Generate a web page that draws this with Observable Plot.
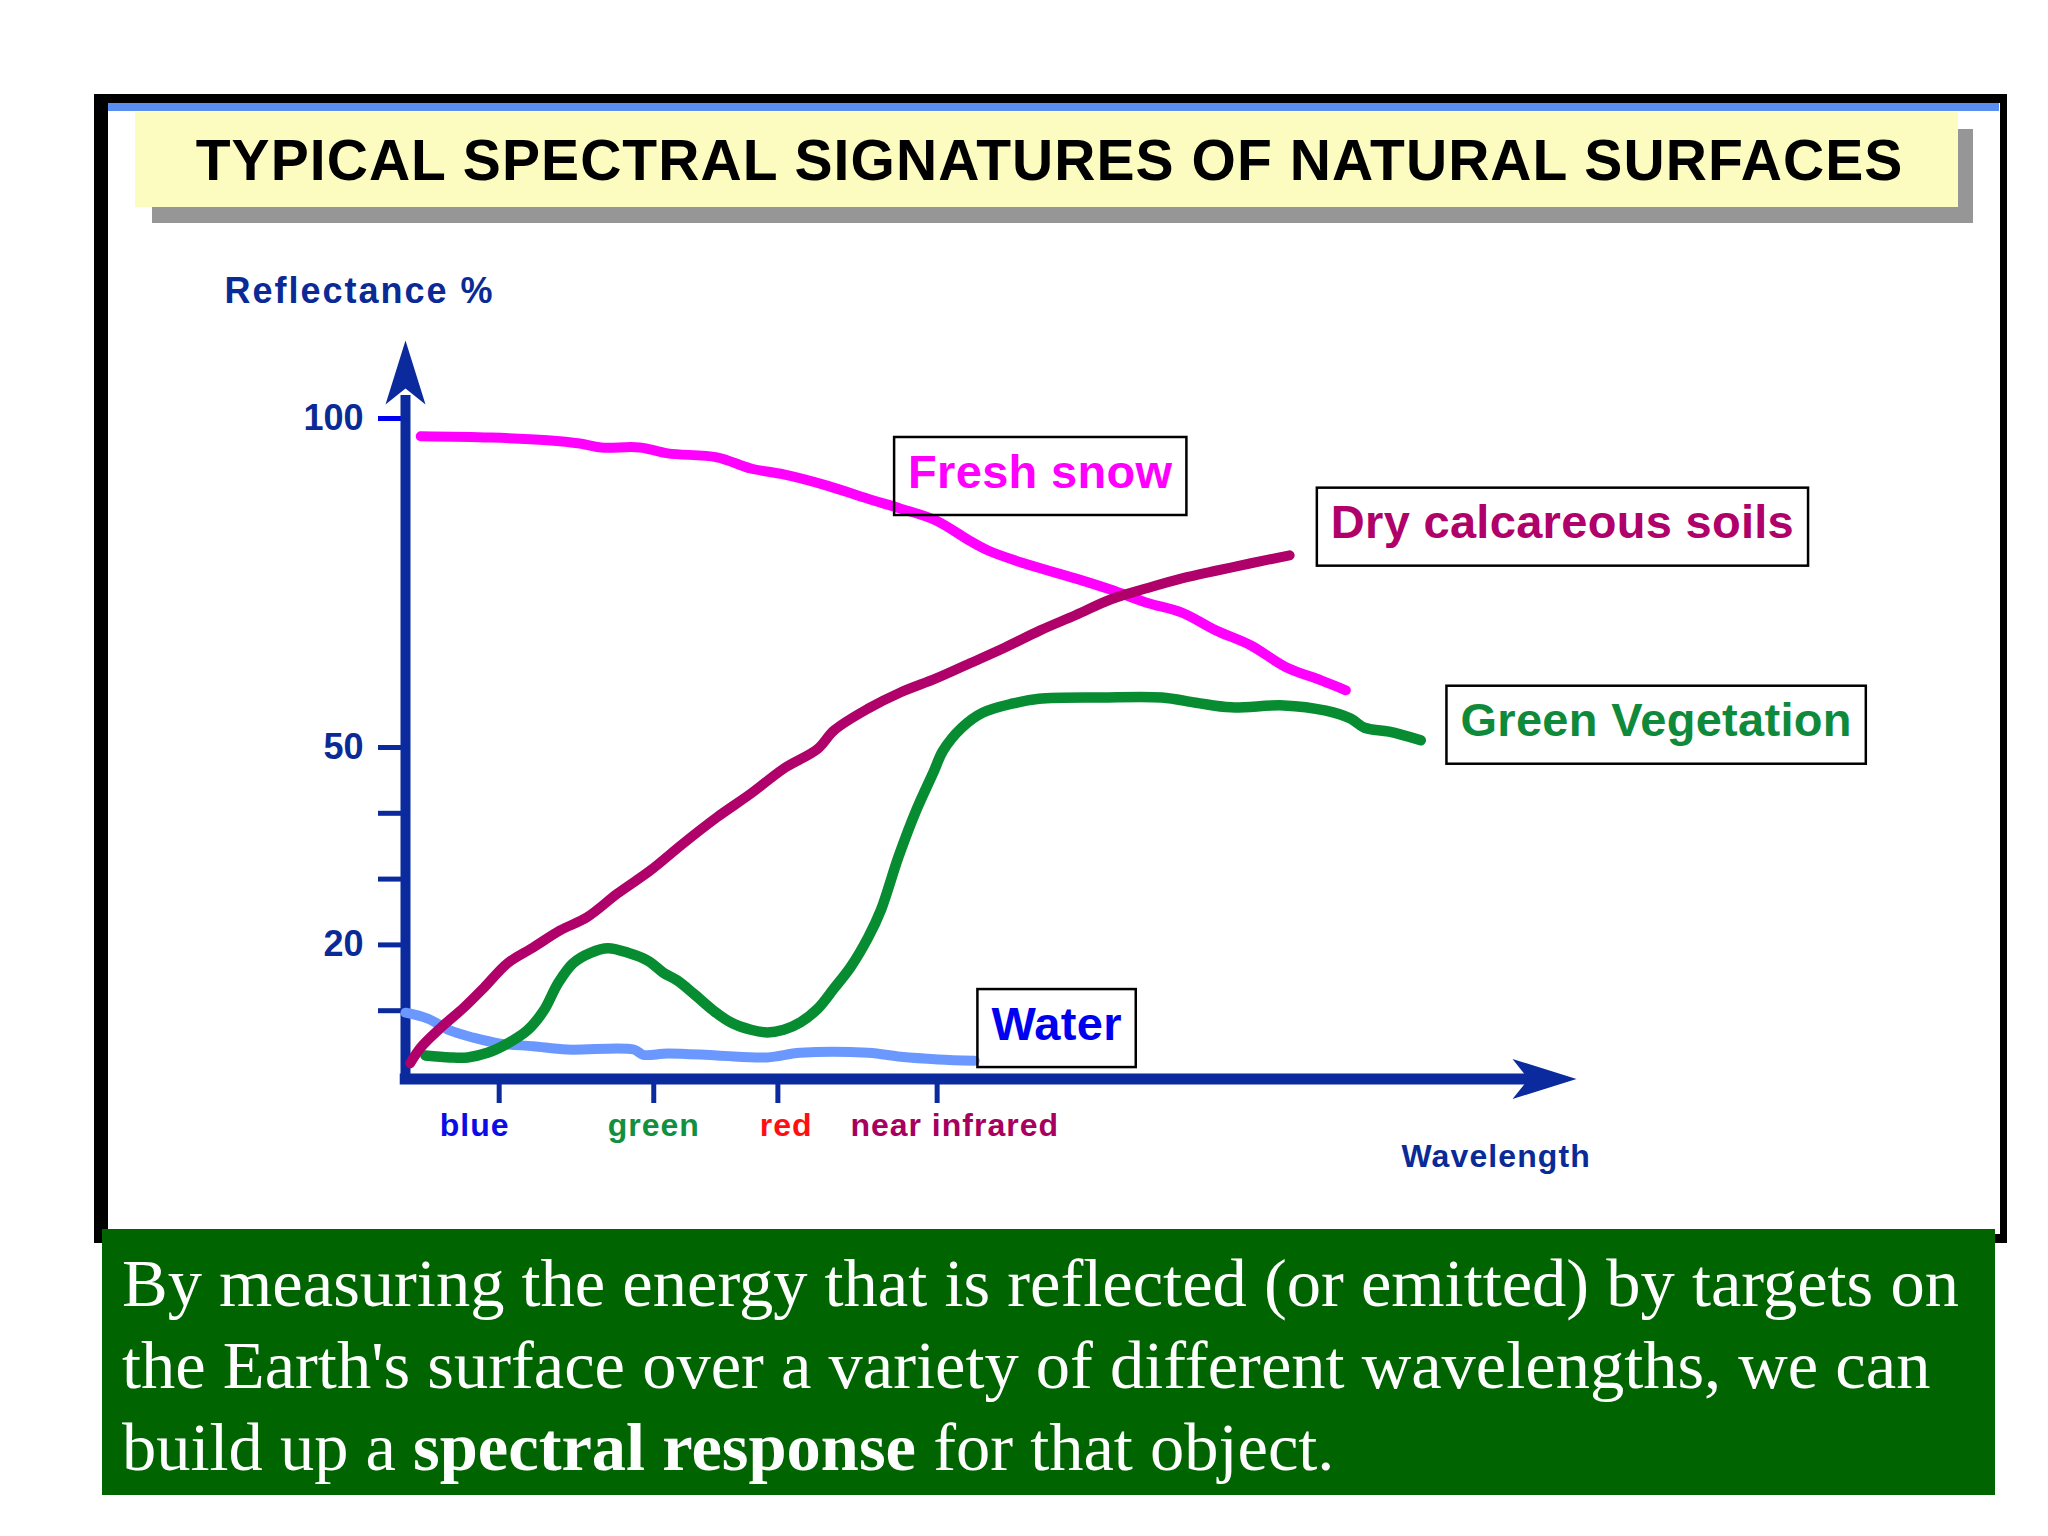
<!DOCTYPE html>
<html>
<head>
<meta charset="utf-8">
<script src="https://cdn.jsdelivr.net/npm/d3@7"></script>
<script src="https://cdn.jsdelivr.net/npm/@observablehq/plot@0.6"></script>
<style>
  html, body { margin: 0; padding: 0; background: #fff; }
  #page { position: relative; width: 2048px; height: 1536px; overflow: hidden; background: #fff; }
  .abs { position: absolute; }
  #title {
    left: 135px; top: 132px; width: 1823px; padding-left: 6px; box-sizing: border-box;
    text-align: center; white-space: nowrap;
    font: bold 57px/57px "Liberation Sans", Arial, sans-serif; letter-spacing: 1.07px; color: #000;
  }
  #caption {
    left: 122px; top: 1242px; width: 1870px; white-space: nowrap;
    font: 68.5px/82px "Liberation Serif", "Times New Roman", serif; color: #fff;
  }
</style>
</head>
<body>
<div id="page">
  <div class="abs" style="left:94px;top:94px;width:1913px;height:1149px;background:#000"></div>
  <div class="abs" style="left:108px;top:103px;width:1892px;height:1131px;background:#fff"></div>
  <div class="abs" style="left:108px;top:103px;width:1891px;height:8px;background:#5a8ef0"></div>
  <div class="abs" style="left:152px;top:129px;width:1821px;height:94px;background:#969696"></div>
  <div class="abs" style="left:135px;top:112px;width:1823px;height:95px;background:#fcfcc0"></div>
  <div id="title" class="abs">TYPICAL SPECTRAL SIGNATURES OF NATURAL SURFACES</div>
  <div id="chart"></div>
  <div class="abs" style="left:102px;top:1229px;width:1893px;height:266px;background:#006400"></div>
  <div id="caption" class="abs">By measuring the energy that is reflected (or emitted) by targets on<br>the Earth's surface over a variety of different wavelengths, we can<br>build up a <b>spectral response</b> for that object.</div>
</div>
<script>
// ---------- data (x = relative wavelength position, y = reflectance %) ----------
const bands = ["blue", "green", "red", "near infrared"];
const bandTicks = [8.0, 21.2, 31.8, 45.4];
const bandLabelX = [5.9, 21.2, 32.5, 46.9];

const yTicksLabeled = [20, 50];
const yTickTop = [100];
const yTicksMinor = [10, 30, 40];

const seriesNames = ["Water", "Fresh snow", "Green Vegetation", "Dry calcareous soils"];

const waterX = [0.0, 1.9, 3.8, 5.8, 8.1, 10.9, 13.8, 19.5, 20.3, 22.4, 26.6, 30.9, 33.7, 39.5, 42.3, 45.5, 48.6];
const waterY = [9.7, 8.8, 7.0, 5.9, 5.0, 4.6, 4.1, 4.1, 3.3, 3.5, 3.2, 2.9, 3.6, 3.6, 3.0, 2.6, 2.4];

const snowX = [1.3, 7.3, 12.1, 14.9, 16.7, 20.0, 22.4, 26.6, 29.5, 32.3, 36.0, 39.5, 42.3, 45.3, 48.2, 49.8, 52.8, 57.2, 60.2, 63.3, 66.3, 69.2, 72.2, 75.2, 78.2, 80.3];
const snowY = [97.3, 97.1, 96.7, 96.2, 95.6, 95.6, 94.7, 94.1, 92.4, 91.5, 89.8, 87.8, 86.3, 84.5, 81.4, 79.9, 78.0, 75.7, 74.0, 72.0, 70.5, 67.8, 65.5, 62.2, 60.2, 58.7];

const vegX = [1.7, 3.8, 5.3, 7.0, 8.7, 10.4, 11.8, 13.0, 14.3, 15.8, 17.3, 19.0, 20.7, 22.0, 23.2, 24.6, 26.3, 27.8, 29.5, 30.9, 32.3, 33.7, 35.2, 36.6, 38.0, 39.5, 40.6, 42.1, 43.6, 45.1, 45.9, 47.5, 49.3, 51.9, 54.1, 59.4, 64.6, 67.5, 70.5, 75.0, 78.6, 80.7, 81.9, 84.0, 86.7];
const vegY = [3.2, 2.9, 2.9, 3.6, 5.0, 7.0, 10.0, 14.1, 17.2, 18.8, 19.5, 18.8, 17.6, 15.8, 14.6, 12.6, 10.0, 8.2, 7.1, 6.7, 7.1, 8.2, 10.3, 13.4, 16.6, 21.1, 25.3, 33.4, 40.4, 46.3, 49.5, 53.0, 55.3, 56.7, 57.4, 57.6, 57.6, 56.8, 56.1, 56.4, 55.6, 54.4, 53.0, 52.4, 51.1];

const soilX = [0.4, 1.3, 3.0, 5.0, 6.7, 8.7, 10.9, 13.2, 15.5, 18.1, 20.9, 23.7, 26.6, 29.5, 32.3, 35.2, 36.6, 39.5, 42.3, 45.3, 48.2, 51.2, 54.2, 57.2, 60.2, 63.3, 66.3, 69.3, 72.2, 75.5];
const soilY = [2.0, 4.4, 7.4, 10.5, 13.5, 17.2, 19.6, 22.2, 24.2, 27.8, 31.3, 35.4, 39.4, 43.0, 46.8, 49.8, 52.6, 55.9, 58.4, 60.5, 62.8, 65.2, 67.8, 70.1, 72.5, 74.2, 75.7, 76.9, 78.0, 79.2];

// label anchors (data coordinates) for the boxed series names
const labelX = [55.6, 54.2, 106.8, 98.8];
const labelY = [7.9, 91.8, 54.0, 84.1];

// ---------- styles ----------
const font = "Liberation Sans, Arial, Helvetica, sans-serif";
const axisBlue = "#0a2a9e";
const textBlue = "#0a2a96";
const seriesColors = ["#6b98ff", "#ff00ff", "#078c32", "#b0006a"];
const labelColors = ["#0000f0", "#ff00ff", "#0f8a3a", "#b0006a"];
const bandColors = ["#0c0ce6", "#12903f", "#ff1010", "#a8005f"];

const rows = (xs, ys) => xs.map((x, i) => ({x, y: ys[i]}));
const series = [rows(waterX, waterY), rows(snowX, snowY), rows(vegX, vegY), rows(soilX, soilY)];

// filled dart arrowhead, tip at the anchor, pointing right
const dart = {
  draw(ctx) {
    ctx.moveTo(0, 0);
    ctx.lineTo(-64, -20);
    ctx.lineTo(-48, 0);
    ctx.lineTo(-64, 20);
    ctx.closePath();
  }
};

const lineStyle = {x: "x", y: "y", strokeWidth: 10, curve: "catmull-rom", strokeLinecap: "round", strokeLinejoin: "round"};

const plot = Plot.plot({
  width: 1890,
  height: 985,
  marginLeft: 297,
  marginRight: 422,
  marginTop: 178,
  marginBottom: 149,
  x: {domain: [0, 100], axis: null},
  y: {domain: [0, 100], axis: null},
  color: {type: "identity"},
  style: {background: "transparent", overflow: "visible", fontFamily: font},
  marks: [
    Plot.axisY({ticks: yTicksMinor, tickSize: 27, tickFormat: () => "", stroke: axisBlue, strokeWidth: 5, label: null}),
    Plot.axisY({ticks: yTicksLabeled, tickSize: 27, tickPadding: 15, stroke: axisBlue, strokeWidth: 5,
      fill: textBlue, fontSize: 36, fontWeight: "bold", label: null}),
    Plot.axisY({ticks: yTickTop, tickSize: 27, tickPadding: 15, stroke: "#0000f0", strokeWidth: 5,
      fill: textBlue, fontSize: 36, fontWeight: "bold", label: null}),
    Plot.axisX({ticks: bandTicks, tickSize: 27, tickFormat: () => "", stroke: axisBlue, strokeWidth: 5, label: null}),
    Plot.ruleX([0], {y1: -0.6, y2: 103.5, stroke: axisBlue, strokeWidth: 10}),
    Plot.ruleY([0], {x1: -0.45, x2: 96.2, dy: 2.5, stroke: axisBlue, strokeWidth: 11}),
    Plot.dot([{x: 0, y: 111.85}], {x: "x", y: "y", symbol: dart, r: 10, fill: axisBlue, stroke: "none", rotate: -90}),
    Plot.dot([{x: 100, y: 0}], {x: "x", y: "y", dy: 2.5, symbol: dart, r: 10, fill: axisBlue, stroke: "none"}),
    Plot.line(series[0], {...lineStyle, stroke: seriesColors[0]}),
    Plot.line(series[1], {...lineStyle, stroke: seriesColors[1]}),
    Plot.line(series[2], {...lineStyle, stroke: seriesColors[2], strokeWidth: 10.5}),
    Plot.line(series[3], {...lineStyle, stroke: seriesColors[3]}),
    Plot.text(bands, {x: (d, i) => bandLabelX[i], y: 0, dy: 59, text: d => d, fill: (d, i) => bandColors[i],
      fontSize: 32, fontWeight: "bold", lineAnchor: "bottom", textAnchor: "middle"}),
    Plot.text(["Reflectance %"], {frameAnchor: "top-left", dx: -181, dy: -116, text: d => d, textAnchor: "start",
      lineAnchor: "bottom", fontSize: 36, fontWeight: "bold", fill: textBlue}),
    Plot.text(["Wavelength"], {frameAnchor: "bottom-right", dx: -175, dy: 90, text: d => d, textAnchor: "start",
      lineAnchor: "bottom", fontSize: 32, fontWeight: "bold", fill: textBlue}),
    Plot.text(seriesNames, {x: (d, i) => labelX[i], y: (d, i) => labelY[i], text: d => d, fill: (d, i) => labelColors[i],
      fontSize: 47, fontWeight: "bold", textAnchor: "middle"})
  ]
});

plot.style.position = "absolute";
plot.style.left = "108px";
plot.style.top = "240px";
document.getElementById("chart").appendChild(plot);

// letter spacing tweaks, matched by text content
const allText = Array.from(plot.querySelectorAll("text"));
const spacing = (strings, v) => allText.filter(t => strings.includes(t.textContent)).forEach(t => t.style.letterSpacing = v);
spacing(bands, "1px");
spacing(["Wavelength"], "1.1px");
spacing(["Reflectance %"], "2px");
spacing(seriesNames, "0.3px");

// boxes round the series names
const svgBox = plot.getBoundingClientRect();
allText.filter(t => seriesNames.includes(t.textContent)).forEach(t => {
  const b = t.getBoundingClientRect();
  const cy = (b.top + b.bottom) / 2 - svgBox.top + 5;
  const r = document.createElementNS("http://www.w3.org/2000/svg", "rect");
  r.setAttribute("x", b.left - svgBox.left - 14);
  r.setAttribute("y", cy - 39);
  r.setAttribute("width", b.width + 28);
  r.setAttribute("height", 78);
  r.setAttribute("fill", "none");
  r.setAttribute("stroke", "#000");
  r.setAttribute("stroke-width", 2.5);
  plot.appendChild(r);
});
</script>
</body>
</html>
